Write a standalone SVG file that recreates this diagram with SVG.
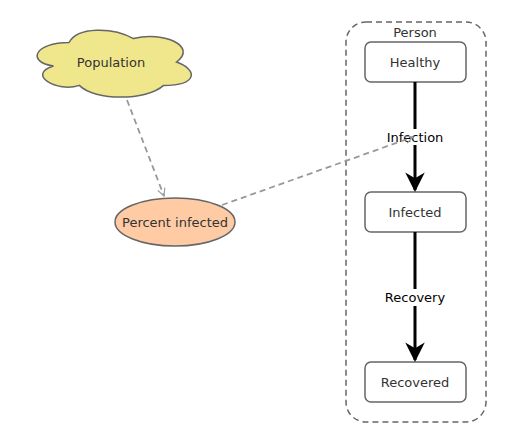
<svg xmlns="http://www.w3.org/2000/svg" width="510" height="444" viewBox="0 0 510 444">
<defs>
<style>
.node{stroke:#666;stroke-width:1.5}
.box{fill:#fff;stroke:#666;stroke-width:1.5}
.t{font-family:"Comic Sans MS","DejaVu Sans",sans-serif;font-size:13px;fill:#333;text-anchor:middle;dominant-baseline:central}
.lbl{font-family:"Comic Sans MS","DejaVu Sans",sans-serif;font-size:13px;fill:#000;text-anchor:middle;dominant-baseline:central}
.flow{stroke:#000;stroke-width:3;fill:none}
.link{stroke:#999;stroke-width:1.8;fill:none;stroke-dasharray:6 4}
</style>
<marker id="ah" viewBox="0 0 10 10" refX="9" refY="5" markerWidth="6.5" markerHeight="6.5" markerUnits="strokeWidth" orient="auto">
<path d="M0,0 L10,5 L0,10 L3,5 Z" fill="#000"/>
</marker>
<marker id="ag" viewBox="0 0 12 12" refX="11" refY="6" markerWidth="9" markerHeight="9" markerUnits="userSpaceOnUse" orient="auto">
<path d="M1,1 L11,6 L1,11" fill="none" stroke="#999" stroke-width="1.5"/>
</marker>
</defs>
<rect width="510" height="444" fill="#fff"/>
<g id="person">
<rect x="346" y="22" width="140" height="400" rx="20" fill="none" stroke="#666" stroke-width="1.5" stroke-dasharray="6 4"/>
<text class="t" x="415" y="32">Person</text>
</g>
<g id="population">
<path class="node" fill="#f0e68c" d="M69,42.5 C34.6,42.5 26,62 53.5,66 C26,74.5 57,93 79.3,85.4 C94.8,101 146.4,101 163.6,85.4 C198,85.4 198,69.8 176.5,62 C198,46.4 163.6,30.8 133.5,38.6 C112,26.9 77.6,26.9 69,42.5 Z"/>
<text class="t" x="111" y="62">Population</text>
</g>
<g id="percent-infected">
<ellipse class="node" cx="175" cy="222" rx="60" ry="24" fill="#ffcba4"/>
<text class="t" x="175" y="222">Percent infected</text>
</g>
<g id="healthy">
<rect class="box" x="365" y="42" width="101" height="40" rx="6"/>
<text class="t" x="415" y="62">Healthy</text>
</g>
<g id="infected">
<rect class="box" x="365" y="192" width="101" height="40" rx="6"/>
<text class="t" x="415" y="212">Infected</text>
</g>
<g id="recovered">
<rect class="box" x="365" y="362" width="101" height="40" rx="6"/>
<text class="t" x="415" y="382">Recovered</text>
</g>
<g id="connectors">
<line class="flow" x1="415" y1="82" x2="415" y2="190" marker-end="url(#ah)"/>
<rect x="384" y="129" width="63" height="16" fill="#fff"/>
<text class="lbl" x="415" y="137">Infection</text>
<line class="flow" x1="415" y1="232" x2="415" y2="360" marker-end="url(#ah)"/>
<rect x="385" y="289" width="61" height="17" fill="#fff"/>
<text class="lbl" x="415" y="297">Recovery</text>
<line class="link" x1="127" y1="100" x2="164" y2="196" marker-end="url(#ag)"/>
<line class="link" x1="222" y1="205" x2="413" y2="137" marker-end="url(#ag)"/>
</g>
</svg>
